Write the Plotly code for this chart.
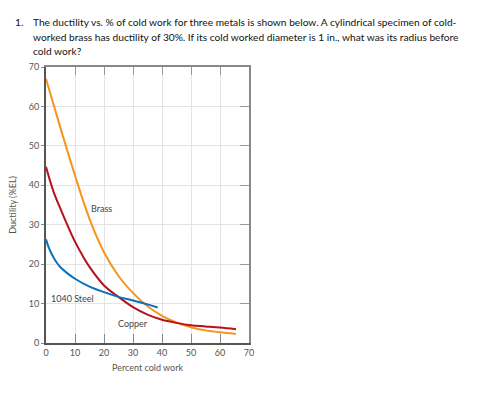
import plotly.graph_objects as go

# ---- data ----
brass_x = [0, 5, 10, 15, 20, 25, 30, 35, 40, 45, 50, 55, 60, 65.5]
brass_y = [67, 54.5, 42.5, 31.5, 23, 17, 12.7, 9.3, 6.9, 5.2, 4.0, 3.2, 2.7, 2.3]

copper_x = [0, 2.5, 5, 7.5, 10, 12.5, 15, 20, 25, 30, 35, 40, 45, 50, 55, 60, 65.5]
copper_y = [44.7, 38.6, 34, 29.7, 25.7, 22.3, 19.3, 14.6, 11.7, 9.1, 7.2, 5.9, 5.1, 4.5, 4.2, 3.9, 3.5]

steel_x = [0, 1, 2, 3, 4, 5, 7.5, 10, 15, 20, 25, 30, 35, 38.5]
steel_y = [26.3, 24.1, 22.5, 21.2, 20.1, 19.2, 17.6, 16.3, 14.3, 12.9, 11.7, 10.8, 9.8, 9.0]

x_ticks = [0, 10, 20, 30, 40, 50, 60, 70]
y_ticks = [0, 10, 20, 30, 40, 50, 60, 70]

question_lines = [
    "The ductility vs. % of cold work for three metals is shown below. A cylindrical specimen of cold-",
    "worked brass has ductility of 30%. If its cold worked diameter is 1 in., what was its radius before",
    "cold work?",
]

# ---- figure ----
W, H = 504, 395
L, R, T, B = 45.7, 249, 66.5, 342.7
pw, ph = R - L, B - T

def px(xp):
    return (xp - L) / pw

def py(yp):
    return (B - yp) / ph

fig = go.Figure()
spl = dict(width=2, shape="spline", smoothing=1.0)
fig.add_trace(go.Scatter(x=brass_x, y=brass_y, mode="lines", line=dict(color="#F7941D", **spl), showlegend=False))
fig.add_trace(go.Scatter(x=copper_x, y=copper_y, mode="lines", line=dict(color="#B5121B", **spl), showlegend=False))
fig.add_trace(go.Scatter(x=steel_x, y=steel_y, mode="lines", line=dict(color="#0A72BA", **spl), showlegend=False))

tickfont = dict(family="Lato, Noto Sans, sans-serif", size=9, color="#555")

fig.update_layout(
    width=W, height=H,
    margin=dict(l=L, r=W - R, t=T, b=H - B, pad=0),
    paper_bgcolor="white", plot_bgcolor="white",
    xaxis=dict(range=[0, 70], tickvals=x_ticks, ticks="inside", ticklen=9, tickcolor="#888",
               showline=True, linecolor="#555", linewidth=2, showgrid=True, gridcolor="#e4e4e4",
               gridwidth=1, zeroline=False, tickfont=tickfont, fixedrange=True),
    yaxis=dict(range=[0, 70], tickvals=y_ticks, ticks="outside", ticklen=3, tickcolor="#888",
               showline=True, linecolor="#555", linewidth=2, showgrid=True, gridcolor="#e4e4e4",
               gridwidth=1, zeroline=False, tickfont=tickfont, fixedrange=True),
    xaxis2=dict(range=[0, 70], tickvals=x_ticks[1:-1], ticks="inside", ticklen=8, tickcolor="#999",
                side="top", overlaying="x", anchor="y", showticklabels=False, showgrid=False,
                showline=True, linecolor="#888", linewidth=2, zeroline=False, fixedrange=True),
    yaxis2=dict(range=[0, 70], tickvals=y_ticks[1:-1], ticks="inside", ticklen=9, tickcolor="#999",
                side="right", overlaying="y", anchor="x", showticklabels=False, showgrid=False,
                showline=True, linecolor="#888", linewidth=2, zeroline=False, fixedrange=True),
)

# invisible trace so the mirrored axes get drawn
fig.add_trace(go.Scatter(x=[None], y=[None], xaxis="x2", yaxis="y2", showlegend=False, hoverinfo="skip"))

qfont = dict(family="Lato, sans-serif", size=10.2, color="#111")
line_y = [21.7, 36.0, 50.5]
fig.add_annotation(text="1.", xref="paper", yref="paper", x=px(13), y=py(line_y[0]), xanchor="left",
                   yanchor="middle", showarrow=False, font=qfont)
for txt, yy in zip(question_lines, line_y):
    fig.add_annotation(text=txt, xref="paper", yref="paper", x=px(31), y=py(yy), xanchor="left",
                       yanchor="middle", showarrow=False, font=qfont)

lblfont = dict(family="Lato, Noto Sans, sans-serif", size=9, color="#555")
fig.add_annotation(text="Percent cold work", xref="paper", yref="paper", x=px(147), y=py(367.5),
                   xanchor="center", yanchor="middle", showarrow=False, font=lblfont)
fig.add_annotation(text="Ductility (%EL)", xref="paper", yref="paper", x=px(12), y=py(204),
                   xanchor="center", yanchor="middle", textangle=-90, showarrow=False, font=lblfont)

curvefont = dict(family="Lato, Noto Sans, sans-serif", size=9, color="#444")
fig.add_annotation(text="Brass", x=19.2, y=34.2, showarrow=False, font=curvefont)
fig.add_annotation(text="1040 Steel", x=9.2, y=11.4, showarrow=False, font=curvefont)
fig.add_annotation(text="Copper", x=30, y=5.0, showarrow=False, font=curvefont)

fig.write_html("out.html", config={"displayModeBar": False},
               post_script="document.body.style.margin='0';")
